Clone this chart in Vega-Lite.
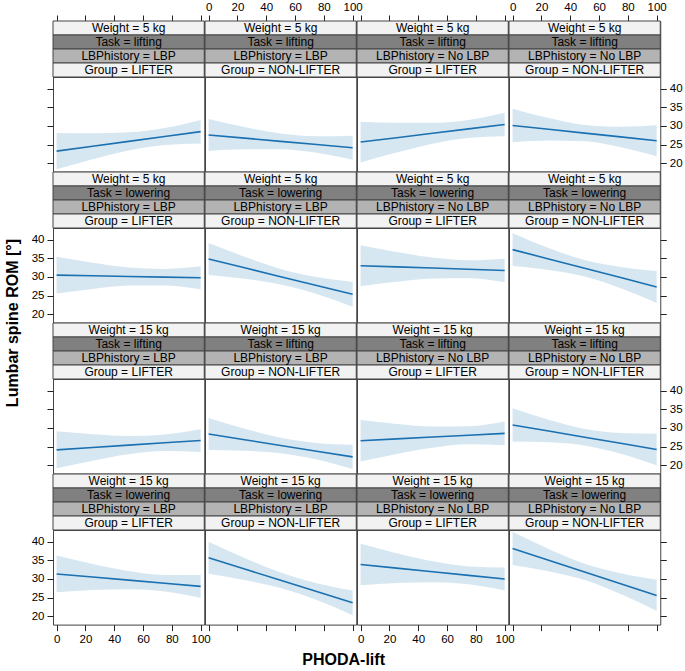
{
  "$schema": "https://vega.github.io/schema/vega-lite/v6.json",
  "background": "white",
  "padding": {"left": 4, "top": 0, "right": 1, "bottom": 2},
  "config": {
    "view": {"stroke": "#444", "strokeWidth": 1},
    "axis": {"domain": false, "grid": false, "tickColor": "#222", "tickSize": 6, "labelFont": "Liberation Sans", "labelFontSize": 11.5, "labelColor": "#000", "labelPadding": 3, "labelFlush": false, "labelOverlap": false},
    "title": {"font": "Liberation Sans", "fontSize": 16, "fontWeight": "bold", "color": "#000"}
  },
  "datasets": {
    "strips": [
      {"p": "r1c1", "v": "Weight", "label": "Weight = 5 kg"}, {"p": "r1c1", "v": "Task", "label": "Task = lifting"}, {"p": "r1c1", "v": "LBPhistory", "label": "LBPhistory = LBP"}, {"p": "r1c1", "v": "Group", "label": "Group = LIFTER"},
      {"p": "r1c2", "v": "Weight", "label": "Weight = 5 kg"}, {"p": "r1c2", "v": "Task", "label": "Task = lifting"}, {"p": "r1c2", "v": "LBPhistory", "label": "LBPhistory = LBP"}, {"p": "r1c2", "v": "Group", "label": "Group = NON-LIFTER"},
      {"p": "r1c3", "v": "Weight", "label": "Weight = 5 kg"}, {"p": "r1c3", "v": "Task", "label": "Task = lifting"}, {"p": "r1c3", "v": "LBPhistory", "label": "LBPhistory = No LBP"}, {"p": "r1c3", "v": "Group", "label": "Group = LIFTER"},
      {"p": "r1c4", "v": "Weight", "label": "Weight = 5 kg"}, {"p": "r1c4", "v": "Task", "label": "Task = lifting"}, {"p": "r1c4", "v": "LBPhistory", "label": "LBPhistory = No LBP"}, {"p": "r1c4", "v": "Group", "label": "Group = NON-LIFTER"},
      {"p": "r2c1", "v": "Weight", "label": "Weight = 5 kg"}, {"p": "r2c1", "v": "Task", "label": "Task = lowering"}, {"p": "r2c1", "v": "LBPhistory", "label": "LBPhistory = LBP"}, {"p": "r2c1", "v": "Group", "label": "Group = LIFTER"},
      {"p": "r2c2", "v": "Weight", "label": "Weight = 5 kg"}, {"p": "r2c2", "v": "Task", "label": "Task = lowering"}, {"p": "r2c2", "v": "LBPhistory", "label": "LBPhistory = LBP"}, {"p": "r2c2", "v": "Group", "label": "Group = NON-LIFTER"},
      {"p": "r2c3", "v": "Weight", "label": "Weight = 5 kg"}, {"p": "r2c3", "v": "Task", "label": "Task = lowering"}, {"p": "r2c3", "v": "LBPhistory", "label": "LBPhistory = No LBP"}, {"p": "r2c3", "v": "Group", "label": "Group = LIFTER"},
      {"p": "r2c4", "v": "Weight", "label": "Weight = 5 kg"}, {"p": "r2c4", "v": "Task", "label": "Task = lowering"}, {"p": "r2c4", "v": "LBPhistory", "label": "LBPhistory = No LBP"}, {"p": "r2c4", "v": "Group", "label": "Group = NON-LIFTER"},
      {"p": "r3c1", "v": "Weight", "label": "Weight = 15 kg"}, {"p": "r3c1", "v": "Task", "label": "Task = lifting"}, {"p": "r3c1", "v": "LBPhistory", "label": "LBPhistory = LBP"}, {"p": "r3c1", "v": "Group", "label": "Group = LIFTER"},
      {"p": "r3c2", "v": "Weight", "label": "Weight = 15 kg"}, {"p": "r3c2", "v": "Task", "label": "Task = lifting"}, {"p": "r3c2", "v": "LBPhistory", "label": "LBPhistory = LBP"}, {"p": "r3c2", "v": "Group", "label": "Group = NON-LIFTER"},
      {"p": "r3c3", "v": "Weight", "label": "Weight = 15 kg"}, {"p": "r3c3", "v": "Task", "label": "Task = lifting"}, {"p": "r3c3", "v": "LBPhistory", "label": "LBPhistory = No LBP"}, {"p": "r3c3", "v": "Group", "label": "Group = LIFTER"},
      {"p": "r3c4", "v": "Weight", "label": "Weight = 15 kg"}, {"p": "r3c4", "v": "Task", "label": "Task = lifting"}, {"p": "r3c4", "v": "LBPhistory", "label": "LBPhistory = No LBP"}, {"p": "r3c4", "v": "Group", "label": "Group = NON-LIFTER"},
      {"p": "r4c1", "v": "Weight", "label": "Weight = 15 kg"}, {"p": "r4c1", "v": "Task", "label": "Task = lowering"}, {"p": "r4c1", "v": "LBPhistory", "label": "LBPhistory = LBP"}, {"p": "r4c1", "v": "Group", "label": "Group = LIFTER"},
      {"p": "r4c2", "v": "Weight", "label": "Weight = 15 kg"}, {"p": "r4c2", "v": "Task", "label": "Task = lowering"}, {"p": "r4c2", "v": "LBPhistory", "label": "LBPhistory = LBP"}, {"p": "r4c2", "v": "Group", "label": "Group = NON-LIFTER"},
      {"p": "r4c3", "v": "Weight", "label": "Weight = 15 kg"}, {"p": "r4c3", "v": "Task", "label": "Task = lowering"}, {"p": "r4c3", "v": "LBPhistory", "label": "LBPhistory = No LBP"}, {"p": "r4c3", "v": "Group", "label": "Group = LIFTER"},
      {"p": "r4c4", "v": "Weight", "label": "Weight = 15 kg"}, {"p": "r4c4", "v": "Task", "label": "Task = lowering"}, {"p": "r4c4", "v": "LBPhistory", "label": "LBPhistory = No LBP"}, {"p": "r4c4", "v": "Group", "label": "Group = NON-LIFTER"}
    ],
    "fits": [
      {"p": "r1c1", "x": 0, "fit": 23.24, "lo": 18.37, "hi": 28.11}, {"p": "r1c1", "x": 25, "fit": 24.55, "lo": 21.07, "hi": 28.03}, {"p": "r1c1", "x": 50, "fit": 25.85, "lo": 23.41, "hi": 28.29}, {"p": "r1c1", "x": 75, "fit": 27.16, "lo": 24.88, "hi": 29.44}, {"p": "r1c1", "x": 100, "fit": 28.46, "lo": 25.31, "hi": 31.61},
      {"p": "r1c2", "x": 0, "fit": 27.56, "lo": 23.28, "hi": 31.84}, {"p": "r1c2", "x": 25, "fit": 26.71, "lo": 23.74, "hi": 29.68}, {"p": "r1c2", "x": 50, "fit": 25.85, "lo": 23.76, "hi": 27.94}, {"p": "r1c2", "x": 75, "fit": 25.0, "lo": 22.78, "hi": 27.22}, {"p": "r1c2", "x": 100, "fit": 24.14, "lo": 20.9, "hi": 27.38},
      {"p": "r1c3", "x": 0, "fit": 25.67, "lo": 20.22, "hi": 31.12}, {"p": "r1c3", "x": 25, "fit": 26.84, "lo": 22.87, "hi": 30.81}, {"p": "r1c3", "x": 50, "fit": 28.02, "lo": 25.23, "hi": 30.81}, {"p": "r1c3", "x": 75, "fit": 29.19, "lo": 26.77, "hi": 31.61}, {"p": "r1c3", "x": 100, "fit": 30.36, "lo": 27.21, "hi": 33.51},
      {"p": "r1c4", "x": 0, "fit": 30.09, "lo": 25.59, "hi": 34.59}, {"p": "r1c4", "x": 25, "fit": 29.08, "lo": 26.06, "hi": 32.1}, {"p": "r1c4", "x": 50, "fit": 28.06, "lo": 25.85, "hi": 30.27}, {"p": "r1c4", "x": 75, "fit": 27.05, "lo": 24.3, "hi": 29.8}, {"p": "r1c4", "x": 100, "fit": 26.03, "lo": 21.89, "hi": 30.17},
      {"p": "r2c1", "x": 0, "fit": 30.47, "lo": 25.52, "hi": 35.42}, {"p": "r2c1", "x": 25, "fit": 30.29, "lo": 26.76, "hi": 33.82}, {"p": "r2c1", "x": 50, "fit": 30.11, "lo": 27.68, "hi": 32.54}, {"p": "r2c1", "x": 75, "fit": 29.93, "lo": 27.72, "hi": 32.14}, {"p": "r2c1", "x": 100, "fit": 29.75, "lo": 26.68, "hi": 32.82},
      {"p": "r2c2", "x": 0, "fit": 34.79, "lo": 30.51, "hi": 39.07}, {"p": "r2c2", "x": 25, "fit": 32.43, "lo": 29.48, "hi": 35.38}, {"p": "r2c2", "x": 50, "fit": 30.06, "lo": 27.98, "hi": 32.14}, {"p": "r2c2", "x": 75, "fit": 27.7, "lo": 25.44, "hi": 29.96}, {"p": "r2c2", "x": 100, "fit": 25.33, "lo": 22.0, "hi": 28.66},
      {"p": "r2c3", "x": 0, "fit": 33.0, "lo": 27.5, "hi": 38.5}, {"p": "r2c3", "x": 25, "fit": 32.68, "lo": 28.68, "hi": 36.68}, {"p": "r2c3", "x": 50, "fit": 32.37, "lo": 29.56, "hi": 35.18}, {"p": "r2c3", "x": 75, "fit": 32.05, "lo": 29.63, "hi": 34.47}, {"p": "r2c3", "x": 100, "fit": 31.73, "lo": 28.58, "hi": 34.88},
      {"p": "r2c4", "x": 0, "fit": 37.31, "lo": 32.9, "hi": 41.72}, {"p": "r2c4", "x": 25, "fit": 34.81, "lo": 31.87, "hi": 37.75}, {"p": "r2c4", "x": 50, "fit": 32.31, "lo": 30.11, "hi": 34.51}, {"p": "r2c4", "x": 75, "fit": 29.81, "lo": 26.97, "hi": 32.65}, {"p": "r2c4", "x": 100, "fit": 27.31, "lo": 23.03, "hi": 31.59},
      {"p": "r3c1", "x": 0, "fit": 24.12, "lo": 19.17, "hi": 29.07}, {"p": "r3c1", "x": 25, "fit": 24.75, "lo": 21.22, "hi": 28.28}, {"p": "r3c1", "x": 50, "fit": 25.38, "lo": 22.95, "hi": 27.81}, {"p": "r3c1", "x": 75, "fit": 26.01, "lo": 23.8, "hi": 28.22}, {"p": "r3c1", "x": 100, "fit": 26.64, "lo": 23.57, "hi": 29.71},
      {"p": "r3c2", "x": 0, "fit": 28.35, "lo": 24.07, "hi": 32.63}, {"p": "r3c2", "x": 25, "fit": 26.82, "lo": 23.85, "hi": 29.79}, {"p": "r3c2", "x": 50, "fit": 25.29, "lo": 23.2, "hi": 27.38}, {"p": "r3c2", "x": 75, "fit": 23.76, "lo": 21.54, "hi": 25.98}, {"p": "r3c2", "x": 100, "fit": 22.23, "lo": 18.99, "hi": 25.47},
      {"p": "r3c3", "x": 0, "fit": 26.55, "lo": 21.01, "hi": 32.09}, {"p": "r3c3", "x": 25, "fit": 27.05, "lo": 23.03, "hi": 31.07}, {"p": "r3c3", "x": 50, "fit": 27.54, "lo": 24.71, "hi": 30.37}, {"p": "r3c3", "x": 75, "fit": 28.04, "lo": 25.61, "hi": 30.47}, {"p": "r3c3", "x": 100, "fit": 28.53, "lo": 25.33, "hi": 31.73},
      {"p": "r3c4", "x": 0, "fit": 30.79, "lo": 26.33, "hi": 35.25}, {"p": "r3c4", "x": 25, "fit": 29.15, "lo": 26.15, "hi": 32.15}, {"p": "r3c4", "x": 50, "fit": 27.5, "lo": 25.3, "hi": 29.7}, {"p": "r3c4", "x": 75, "fit": 25.86, "lo": 23.08, "hi": 28.64}, {"p": "r3c4", "x": 100, "fit": 24.21, "lo": 20.02, "hi": 28.4},
      {"p": "r4c1", "x": 0, "fit": 31.33, "lo": 26.42, "hi": 36.24}, {"p": "r4c1", "x": 25, "fit": 30.5, "lo": 27.0, "hi": 34.0}, {"p": "r4c1", "x": 50, "fit": 29.66, "lo": 27.23, "hi": 32.09}, {"p": "r4c1", "x": 75, "fit": 28.83, "lo": 26.62, "hi": 31.04}, {"p": "r4c1", "x": 100, "fit": 27.99, "lo": 24.92, "hi": 31.06},
      {"p": "r4c2", "x": 0, "fit": 35.65, "lo": 31.37, "hi": 39.93}, {"p": "r4c2", "x": 25, "fit": 32.63, "lo": 29.68, "hi": 35.58}, {"p": "r4c2", "x": 50, "fit": 29.62, "lo": 27.54, "hi": 31.7}, {"p": "r4c2", "x": 75, "fit": 26.6, "lo": 24.34, "hi": 28.86}, {"p": "r4c2", "x": 100, "fit": 23.58, "lo": 20.25, "hi": 26.91},
      {"p": "r4c3", "x": 0, "fit": 33.85, "lo": 28.31, "hi": 39.39}, {"p": "r4c3", "x": 25, "fit": 32.88, "lo": 28.88, "hi": 36.88}, {"p": "r4c3", "x": 50, "fit": 31.92, "lo": 29.12, "hi": 34.72}, {"p": "r4c3", "x": 75, "fit": 30.95, "lo": 28.55, "hi": 33.35}, {"p": "r4c3", "x": 100, "fit": 29.98, "lo": 26.91, "hi": 33.05},
      {"p": "r4c4", "x": 0, "fit": 38.17, "lo": 33.71, "hi": 42.63}, {"p": "r4c4", "x": 25, "fit": 35.02, "lo": 32.02, "hi": 38.02}, {"p": "r4c4", "x": 50, "fit": 31.87, "lo": 29.67, "hi": 34.07}, {"p": "r4c4", "x": 75, "fit": 28.71, "lo": 25.93, "hi": 31.49}, {"p": "r4c4", "x": 100, "fit": 25.56, "lo": 21.37, "hi": 29.75}
    ]
  },
  "title": {"text": "PHODA-lift", "orient": "bottom", "anchor": "middle", "offset": 6},
  "vconcat": [
    {
      "title": {"text": "Lumbar spine ROM [°]", "orient": "left", "anchor": "middle", "frame": "bounds", "offset": 10},
      "columns": 4,
      "spacing": 0,
      "bounds": "flush",
      "concat": [
        {"width": 151.25, "height": 56, "data": {"name": "strips"}, "transform": [{"filter": "datum.p == 'r1c1'"}],
         "encoding": {"y": {"field": "v", "type": "nominal", "sort": ["Weight", "Task", "LBPhistory", "Group"], "scale": {"paddingInner": 0, "paddingOuter": 0}, "axis": null}},
         "layer": [
           {"mark": {"type": "rect", "stroke": "#444", "strokeWidth": 1}, "encoding": {"fill": {"field": "v", "type": "nominal", "scale": {"domain": ["Weight", "Task", "LBPhistory", "Group"], "range": ["#f2f2f2", "#808080", "#b3b3b3", "#f2f2f2"]}, "legend": null}}},
           {"mark": {"type": "text", "font": "Liberation Sans", "fontSize": 12, "color": "#000"}, "encoding": {"text": {"field": "label"}, "x": {"datum": 50, "type": "quantitative", "scale": {"domain": [-2.5, 102.5], "nice": false, "zero": false}, "axis": {"orient": "top", "values": [0, 20, 40, 60, 80, 100], "tickCount": 10, "title": null, "labels": false}}}}
         ]},
        {"width": 151.25, "height": 56, "data": {"name": "strips"}, "transform": [{"filter": "datum.p == 'r1c2'"}],
         "encoding": {"y": {"field": "v", "type": "nominal", "sort": ["Weight", "Task", "LBPhistory", "Group"], "scale": {"paddingInner": 0, "paddingOuter": 0}, "axis": null}},
         "layer": [
           {"mark": {"type": "rect", "stroke": "#444", "strokeWidth": 1}, "encoding": {"fill": {"field": "v", "type": "nominal", "scale": {"domain": ["Weight", "Task", "LBPhistory", "Group"], "range": ["#f2f2f2", "#808080", "#b3b3b3", "#f2f2f2"]}, "legend": null}}},
           {"mark": {"type": "text", "font": "Liberation Sans", "fontSize": 12, "color": "#000"}, "encoding": {"text": {"field": "label"}, "x": {"datum": 50, "type": "quantitative", "scale": {"domain": [-2.5, 102.5], "nice": false, "zero": false}, "axis": {"orient": "top", "values": [0, 20, 40, 60, 80, 100], "tickCount": 10, "title": null, "labels": true}}}}
         ]},
        {"width": 151.25, "height": 56, "data": {"name": "strips"}, "transform": [{"filter": "datum.p == 'r1c3'"}],
         "encoding": {"y": {"field": "v", "type": "nominal", "sort": ["Weight", "Task", "LBPhistory", "Group"], "scale": {"paddingInner": 0, "paddingOuter": 0}, "axis": null}},
         "layer": [
           {"mark": {"type": "rect", "stroke": "#444", "strokeWidth": 1}, "encoding": {"fill": {"field": "v", "type": "nominal", "scale": {"domain": ["Weight", "Task", "LBPhistory", "Group"], "range": ["#f2f2f2", "#808080", "#b3b3b3", "#f2f2f2"]}, "legend": null}}},
           {"mark": {"type": "text", "font": "Liberation Sans", "fontSize": 12, "color": "#000"}, "encoding": {"text": {"field": "label"}, "x": {"datum": 50, "type": "quantitative", "scale": {"domain": [-2.5, 102.5], "nice": false, "zero": false}, "axis": {"orient": "top", "values": [0, 20, 40, 60, 80, 100], "tickCount": 10, "title": null, "labels": false}}}}
         ]},
        {"width": 151.25, "height": 56, "data": {"name": "strips"}, "transform": [{"filter": "datum.p == 'r1c4'"}],
         "encoding": {"y": {"field": "v", "type": "nominal", "sort": ["Weight", "Task", "LBPhistory", "Group"], "scale": {"paddingInner": 0, "paddingOuter": 0}, "axis": null}},
         "layer": [
           {"mark": {"type": "rect", "stroke": "#444", "strokeWidth": 1}, "encoding": {"fill": {"field": "v", "type": "nominal", "scale": {"domain": ["Weight", "Task", "LBPhistory", "Group"], "range": ["#f2f2f2", "#808080", "#b3b3b3", "#f2f2f2"]}, "legend": null}}},
           {"mark": {"type": "text", "font": "Liberation Sans", "fontSize": 12, "color": "#000"}, "encoding": {"text": {"field": "label"}, "x": {"datum": 50, "type": "quantitative", "scale": {"domain": [-2.5, 102.5], "nice": false, "zero": false}, "axis": {"orient": "top", "values": [0, 20, 40, 60, 80, 100], "tickCount": 10, "title": null, "labels": true}}}}
         ]},
        {"width": 151.25, "height": 94.6, "data": {"name": "fits"}, "transform": [{"filter": "datum.p == 'r1c1'"}],
         "encoding": {"x": {"field": "x", "type": "quantitative", "scale": {"domain": [-2.5, 102.5], "nice": false, "zero": false}, "axis": null}},
         "layer": [
           {"mark": {"type": "area", "color": "#d6e7f2", "interpolate": "monotone"}, "encoding": {"y": {"field": "lo", "type": "quantitative", "scale": {"domain": [17.75, 43.1], "nice": false, "zero": false}, "axis": {"orient": "left", "values": [20, 25, 30, 35, 40], "tickCount": 10, "title": null, "labels": false}}, "y2": {"field": "hi"}}},
           {"mark": {"type": "line", "color": "#1a70b0", "strokeWidth": 1.6}, "encoding": {"y": {"field": "fit", "type": "quantitative"}}}
         ]},
        {"width": 151.25, "height": 94.6, "data": {"name": "fits"}, "transform": [{"filter": "datum.p == 'r1c2'"}],
         "encoding": {"x": {"field": "x", "type": "quantitative", "scale": {"domain": [-2.5, 102.5], "nice": false, "zero": false}, "axis": null}},
         "layer": [
           {"mark": {"type": "area", "color": "#d6e7f2", "interpolate": "monotone"}, "encoding": {"y": {"field": "lo", "type": "quantitative", "scale": {"domain": [17.75, 43.1], "nice": false, "zero": false}, "axis": null}, "y2": {"field": "hi"}}},
           {"mark": {"type": "line", "color": "#1a70b0", "strokeWidth": 1.6}, "encoding": {"y": {"field": "fit", "type": "quantitative"}}}
         ]},
        {"width": 151.25, "height": 94.6, "data": {"name": "fits"}, "transform": [{"filter": "datum.p == 'r1c3'"}],
         "encoding": {"x": {"field": "x", "type": "quantitative", "scale": {"domain": [-2.5, 102.5], "nice": false, "zero": false}, "axis": null}},
         "layer": [
           {"mark": {"type": "area", "color": "#d6e7f2", "interpolate": "monotone"}, "encoding": {"y": {"field": "lo", "type": "quantitative", "scale": {"domain": [17.75, 43.1], "nice": false, "zero": false}, "axis": null}, "y2": {"field": "hi"}}},
           {"mark": {"type": "line", "color": "#1a70b0", "strokeWidth": 1.6}, "encoding": {"y": {"field": "fit", "type": "quantitative"}}}
         ]},
        {"width": 151.25, "height": 94.6, "data": {"name": "fits"}, "transform": [{"filter": "datum.p == 'r1c4'"}],
         "encoding": {"x": {"field": "x", "type": "quantitative", "scale": {"domain": [-2.5, 102.5], "nice": false, "zero": false}, "axis": null}},
         "layer": [
           {"mark": {"type": "area", "color": "#d6e7f2", "interpolate": "monotone"}, "encoding": {"y": {"field": "lo", "type": "quantitative", "scale": {"domain": [17.75, 43.1], "nice": false, "zero": false}, "axis": {"orient": "right", "values": [20, 25, 30, 35, 40], "tickCount": 10, "title": null, "labels": true}}, "y2": {"field": "hi"}}},
           {"mark": {"type": "line", "color": "#1a70b0", "strokeWidth": 1.6}, "encoding": {"y": {"field": "fit", "type": "quantitative"}}}
         ]},

        {"width": 151.25, "height": 56, "data": {"name": "strips"}, "transform": [{"filter": "datum.p == 'r2c1'"}],
         "encoding": {"y": {"field": "v", "type": "nominal", "sort": ["Weight", "Task", "LBPhistory", "Group"], "scale": {"paddingInner": 0, "paddingOuter": 0}, "axis": null}},
         "layer": [
           {"mark": {"type": "rect", "stroke": "#444", "strokeWidth": 1}, "encoding": {"fill": {"field": "v", "type": "nominal", "scale": {"domain": ["Weight", "Task", "LBPhistory", "Group"], "range": ["#f2f2f2", "#808080", "#b3b3b3", "#f2f2f2"]}, "legend": null}}},
           {"mark": {"type": "text", "font": "Liberation Sans", "fontSize": 12, "color": "#000"}, "encoding": {"text": {"field": "label"}}}
         ]},
        {"width": 151.25, "height": 56, "data": {"name": "strips"}, "transform": [{"filter": "datum.p == 'r2c2'"}],
         "encoding": {"y": {"field": "v", "type": "nominal", "sort": ["Weight", "Task", "LBPhistory", "Group"], "scale": {"paddingInner": 0, "paddingOuter": 0}, "axis": null}},
         "layer": [
           {"mark": {"type": "rect", "stroke": "#444", "strokeWidth": 1}, "encoding": {"fill": {"field": "v", "type": "nominal", "scale": {"domain": ["Weight", "Task", "LBPhistory", "Group"], "range": ["#f2f2f2", "#808080", "#b3b3b3", "#f2f2f2"]}, "legend": null}}},
           {"mark": {"type": "text", "font": "Liberation Sans", "fontSize": 12, "color": "#000"}, "encoding": {"text": {"field": "label"}}}
         ]},
        {"width": 151.25, "height": 56, "data": {"name": "strips"}, "transform": [{"filter": "datum.p == 'r2c3'"}],
         "encoding": {"y": {"field": "v", "type": "nominal", "sort": ["Weight", "Task", "LBPhistory", "Group"], "scale": {"paddingInner": 0, "paddingOuter": 0}, "axis": null}},
         "layer": [
           {"mark": {"type": "rect", "stroke": "#444", "strokeWidth": 1}, "encoding": {"fill": {"field": "v", "type": "nominal", "scale": {"domain": ["Weight", "Task", "LBPhistory", "Group"], "range": ["#f2f2f2", "#808080", "#b3b3b3", "#f2f2f2"]}, "legend": null}}},
           {"mark": {"type": "text", "font": "Liberation Sans", "fontSize": 12, "color": "#000"}, "encoding": {"text": {"field": "label"}}}
         ]},
        {"width": 151.25, "height": 56, "data": {"name": "strips"}, "transform": [{"filter": "datum.p == 'r2c4'"}],
         "encoding": {"y": {"field": "v", "type": "nominal", "sort": ["Weight", "Task", "LBPhistory", "Group"], "scale": {"paddingInner": 0, "paddingOuter": 0}, "axis": null}},
         "layer": [
           {"mark": {"type": "rect", "stroke": "#444", "strokeWidth": 1}, "encoding": {"fill": {"field": "v", "type": "nominal", "scale": {"domain": ["Weight", "Task", "LBPhistory", "Group"], "range": ["#f2f2f2", "#808080", "#b3b3b3", "#f2f2f2"]}, "legend": null}}},
           {"mark": {"type": "text", "font": "Liberation Sans", "fontSize": 12, "color": "#000"}, "encoding": {"text": {"field": "label"}}}
         ]},
        {"width": 151.25, "height": 94.6, "data": {"name": "fits"}, "transform": [{"filter": "datum.p == 'r2c1'"}],
         "encoding": {"x": {"field": "x", "type": "quantitative", "scale": {"domain": [-2.5, 102.5], "nice": false, "zero": false}, "axis": null}},
         "layer": [
           {"mark": {"type": "area", "color": "#d6e7f2", "interpolate": "monotone"}, "encoding": {"y": {"field": "lo", "type": "quantitative", "scale": {"domain": [17.75, 43.1], "nice": false, "zero": false}, "axis": {"orient": "left", "values": [20, 25, 30, 35, 40], "tickCount": 10, "title": null, "labels": true}}, "y2": {"field": "hi"}}},
           {"mark": {"type": "line", "color": "#1a70b0", "strokeWidth": 1.6}, "encoding": {"y": {"field": "fit", "type": "quantitative"}}}
         ]},
        {"width": 151.25, "height": 94.6, "data": {"name": "fits"}, "transform": [{"filter": "datum.p == 'r2c2'"}],
         "encoding": {"x": {"field": "x", "type": "quantitative", "scale": {"domain": [-2.5, 102.5], "nice": false, "zero": false}, "axis": null}},
         "layer": [
           {"mark": {"type": "area", "color": "#d6e7f2", "interpolate": "monotone"}, "encoding": {"y": {"field": "lo", "type": "quantitative", "scale": {"domain": [17.75, 43.1], "nice": false, "zero": false}, "axis": null}, "y2": {"field": "hi"}}},
           {"mark": {"type": "line", "color": "#1a70b0", "strokeWidth": 1.6}, "encoding": {"y": {"field": "fit", "type": "quantitative"}}}
         ]},
        {"width": 151.25, "height": 94.6, "data": {"name": "fits"}, "transform": [{"filter": "datum.p == 'r2c3'"}],
         "encoding": {"x": {"field": "x", "type": "quantitative", "scale": {"domain": [-2.5, 102.5], "nice": false, "zero": false}, "axis": null}},
         "layer": [
           {"mark": {"type": "area", "color": "#d6e7f2", "interpolate": "monotone"}, "encoding": {"y": {"field": "lo", "type": "quantitative", "scale": {"domain": [17.75, 43.1], "nice": false, "zero": false}, "axis": null}, "y2": {"field": "hi"}}},
           {"mark": {"type": "line", "color": "#1a70b0", "strokeWidth": 1.6}, "encoding": {"y": {"field": "fit", "type": "quantitative"}}}
         ]},
        {"width": 151.25, "height": 94.6, "data": {"name": "fits"}, "transform": [{"filter": "datum.p == 'r2c4'"}],
         "encoding": {"x": {"field": "x", "type": "quantitative", "scale": {"domain": [-2.5, 102.5], "nice": false, "zero": false}, "axis": null}},
         "layer": [
           {"mark": {"type": "area", "color": "#d6e7f2", "interpolate": "monotone"}, "encoding": {"y": {"field": "lo", "type": "quantitative", "scale": {"domain": [17.75, 43.1], "nice": false, "zero": false}, "axis": {"orient": "right", "values": [20, 25, 30, 35, 40], "tickCount": 10, "title": null, "labels": false}}, "y2": {"field": "hi"}}},
           {"mark": {"type": "line", "color": "#1a70b0", "strokeWidth": 1.6}, "encoding": {"y": {"field": "fit", "type": "quantitative"}}}
         ]},

        {"width": 151.25, "height": 56, "data": {"name": "strips"}, "transform": [{"filter": "datum.p == 'r3c1'"}],
         "encoding": {"y": {"field": "v", "type": "nominal", "sort": ["Weight", "Task", "LBPhistory", "Group"], "scale": {"paddingInner": 0, "paddingOuter": 0}, "axis": null}},
         "layer": [
           {"mark": {"type": "rect", "stroke": "#444", "strokeWidth": 1}, "encoding": {"fill": {"field": "v", "type": "nominal", "scale": {"domain": ["Weight", "Task", "LBPhistory", "Group"], "range": ["#f2f2f2", "#808080", "#b3b3b3", "#f2f2f2"]}, "legend": null}}},
           {"mark": {"type": "text", "font": "Liberation Sans", "fontSize": 12, "color": "#000"}, "encoding": {"text": {"field": "label"}}}
         ]},
        {"width": 151.25, "height": 56, "data": {"name": "strips"}, "transform": [{"filter": "datum.p == 'r3c2'"}],
         "encoding": {"y": {"field": "v", "type": "nominal", "sort": ["Weight", "Task", "LBPhistory", "Group"], "scale": {"paddingInner": 0, "paddingOuter": 0}, "axis": null}},
         "layer": [
           {"mark": {"type": "rect", "stroke": "#444", "strokeWidth": 1}, "encoding": {"fill": {"field": "v", "type": "nominal", "scale": {"domain": ["Weight", "Task", "LBPhistory", "Group"], "range": ["#f2f2f2", "#808080", "#b3b3b3", "#f2f2f2"]}, "legend": null}}},
           {"mark": {"type": "text", "font": "Liberation Sans", "fontSize": 12, "color": "#000"}, "encoding": {"text": {"field": "label"}}}
         ]},
        {"width": 151.25, "height": 56, "data": {"name": "strips"}, "transform": [{"filter": "datum.p == 'r3c3'"}],
         "encoding": {"y": {"field": "v", "type": "nominal", "sort": ["Weight", "Task", "LBPhistory", "Group"], "scale": {"paddingInner": 0, "paddingOuter": 0}, "axis": null}},
         "layer": [
           {"mark": {"type": "rect", "stroke": "#444", "strokeWidth": 1}, "encoding": {"fill": {"field": "v", "type": "nominal", "scale": {"domain": ["Weight", "Task", "LBPhistory", "Group"], "range": ["#f2f2f2", "#808080", "#b3b3b3", "#f2f2f2"]}, "legend": null}}},
           {"mark": {"type": "text", "font": "Liberation Sans", "fontSize": 12, "color": "#000"}, "encoding": {"text": {"field": "label"}}}
         ]},
        {"width": 151.25, "height": 56, "data": {"name": "strips"}, "transform": [{"filter": "datum.p == 'r3c4'"}],
         "encoding": {"y": {"field": "v", "type": "nominal", "sort": ["Weight", "Task", "LBPhistory", "Group"], "scale": {"paddingInner": 0, "paddingOuter": 0}, "axis": null}},
         "layer": [
           {"mark": {"type": "rect", "stroke": "#444", "strokeWidth": 1}, "encoding": {"fill": {"field": "v", "type": "nominal", "scale": {"domain": ["Weight", "Task", "LBPhistory", "Group"], "range": ["#f2f2f2", "#808080", "#b3b3b3", "#f2f2f2"]}, "legend": null}}},
           {"mark": {"type": "text", "font": "Liberation Sans", "fontSize": 12, "color": "#000"}, "encoding": {"text": {"field": "label"}}}
         ]},
        {"width": 151.25, "height": 94.6, "data": {"name": "fits"}, "transform": [{"filter": "datum.p == 'r3c1'"}],
         "encoding": {"x": {"field": "x", "type": "quantitative", "scale": {"domain": [-2.5, 102.5], "nice": false, "zero": false}, "axis": null}},
         "layer": [
           {"mark": {"type": "area", "color": "#d6e7f2", "interpolate": "monotone"}, "encoding": {"y": {"field": "lo", "type": "quantitative", "scale": {"domain": [17.75, 43.1], "nice": false, "zero": false}, "axis": {"orient": "left", "values": [20, 25, 30, 35, 40], "tickCount": 10, "title": null, "labels": false}}, "y2": {"field": "hi"}}},
           {"mark": {"type": "line", "color": "#1a70b0", "strokeWidth": 1.6}, "encoding": {"y": {"field": "fit", "type": "quantitative"}}}
         ]},
        {"width": 151.25, "height": 94.6, "data": {"name": "fits"}, "transform": [{"filter": "datum.p == 'r3c2'"}],
         "encoding": {"x": {"field": "x", "type": "quantitative", "scale": {"domain": [-2.5, 102.5], "nice": false, "zero": false}, "axis": null}},
         "layer": [
           {"mark": {"type": "area", "color": "#d6e7f2", "interpolate": "monotone"}, "encoding": {"y": {"field": "lo", "type": "quantitative", "scale": {"domain": [17.75, 43.1], "nice": false, "zero": false}, "axis": null}, "y2": {"field": "hi"}}},
           {"mark": {"type": "line", "color": "#1a70b0", "strokeWidth": 1.6}, "encoding": {"y": {"field": "fit", "type": "quantitative"}}}
         ]},
        {"width": 151.25, "height": 94.6, "data": {"name": "fits"}, "transform": [{"filter": "datum.p == 'r3c3'"}],
         "encoding": {"x": {"field": "x", "type": "quantitative", "scale": {"domain": [-2.5, 102.5], "nice": false, "zero": false}, "axis": null}},
         "layer": [
           {"mark": {"type": "area", "color": "#d6e7f2", "interpolate": "monotone"}, "encoding": {"y": {"field": "lo", "type": "quantitative", "scale": {"domain": [17.75, 43.1], "nice": false, "zero": false}, "axis": null}, "y2": {"field": "hi"}}},
           {"mark": {"type": "line", "color": "#1a70b0", "strokeWidth": 1.6}, "encoding": {"y": {"field": "fit", "type": "quantitative"}}}
         ]},
        {"width": 151.25, "height": 94.6, "data": {"name": "fits"}, "transform": [{"filter": "datum.p == 'r3c4'"}],
         "encoding": {"x": {"field": "x", "type": "quantitative", "scale": {"domain": [-2.5, 102.5], "nice": false, "zero": false}, "axis": null}},
         "layer": [
           {"mark": {"type": "area", "color": "#d6e7f2", "interpolate": "monotone"}, "encoding": {"y": {"field": "lo", "type": "quantitative", "scale": {"domain": [17.75, 43.1], "nice": false, "zero": false}, "axis": {"orient": "right", "values": [20, 25, 30, 35, 40], "tickCount": 10, "title": null, "labels": true}}, "y2": {"field": "hi"}}},
           {"mark": {"type": "line", "color": "#1a70b0", "strokeWidth": 1.6}, "encoding": {"y": {"field": "fit", "type": "quantitative"}}}
         ]},

        {"width": 151.25, "height": 56, "data": {"name": "strips"}, "transform": [{"filter": "datum.p == 'r4c1'"}],
         "encoding": {"y": {"field": "v", "type": "nominal", "sort": ["Weight", "Task", "LBPhistory", "Group"], "scale": {"paddingInner": 0, "paddingOuter": 0}, "axis": null}},
         "layer": [
           {"mark": {"type": "rect", "stroke": "#444", "strokeWidth": 1}, "encoding": {"fill": {"field": "v", "type": "nominal", "scale": {"domain": ["Weight", "Task", "LBPhistory", "Group"], "range": ["#f2f2f2", "#808080", "#b3b3b3", "#f2f2f2"]}, "legend": null}}},
           {"mark": {"type": "text", "font": "Liberation Sans", "fontSize": 12, "color": "#000"}, "encoding": {"text": {"field": "label"}}}
         ]},
        {"width": 151.25, "height": 56, "data": {"name": "strips"}, "transform": [{"filter": "datum.p == 'r4c2'"}],
         "encoding": {"y": {"field": "v", "type": "nominal", "sort": ["Weight", "Task", "LBPhistory", "Group"], "scale": {"paddingInner": 0, "paddingOuter": 0}, "axis": null}},
         "layer": [
           {"mark": {"type": "rect", "stroke": "#444", "strokeWidth": 1}, "encoding": {"fill": {"field": "v", "type": "nominal", "scale": {"domain": ["Weight", "Task", "LBPhistory", "Group"], "range": ["#f2f2f2", "#808080", "#b3b3b3", "#f2f2f2"]}, "legend": null}}},
           {"mark": {"type": "text", "font": "Liberation Sans", "fontSize": 12, "color": "#000"}, "encoding": {"text": {"field": "label"}}}
         ]},
        {"width": 151.25, "height": 56, "data": {"name": "strips"}, "transform": [{"filter": "datum.p == 'r4c3'"}],
         "encoding": {"y": {"field": "v", "type": "nominal", "sort": ["Weight", "Task", "LBPhistory", "Group"], "scale": {"paddingInner": 0, "paddingOuter": 0}, "axis": null}},
         "layer": [
           {"mark": {"type": "rect", "stroke": "#444", "strokeWidth": 1}, "encoding": {"fill": {"field": "v", "type": "nominal", "scale": {"domain": ["Weight", "Task", "LBPhistory", "Group"], "range": ["#f2f2f2", "#808080", "#b3b3b3", "#f2f2f2"]}, "legend": null}}},
           {"mark": {"type": "text", "font": "Liberation Sans", "fontSize": 12, "color": "#000"}, "encoding": {"text": {"field": "label"}}}
         ]},
        {"width": 151.25, "height": 56, "data": {"name": "strips"}, "transform": [{"filter": "datum.p == 'r4c4'"}],
         "encoding": {"y": {"field": "v", "type": "nominal", "sort": ["Weight", "Task", "LBPhistory", "Group"], "scale": {"paddingInner": 0, "paddingOuter": 0}, "axis": null}},
         "layer": [
           {"mark": {"type": "rect", "stroke": "#444", "strokeWidth": 1}, "encoding": {"fill": {"field": "v", "type": "nominal", "scale": {"domain": ["Weight", "Task", "LBPhistory", "Group"], "range": ["#f2f2f2", "#808080", "#b3b3b3", "#f2f2f2"]}, "legend": null}}},
           {"mark": {"type": "text", "font": "Liberation Sans", "fontSize": 12, "color": "#000"}, "encoding": {"text": {"field": "label"}}}
         ]},
        {"width": 151.25, "height": 94.6, "data": {"name": "fits"}, "transform": [{"filter": "datum.p == 'r4c1'"}],
         "encoding": {"x": {"field": "x", "type": "quantitative", "scale": {"domain": [-2.5, 102.5], "nice": false, "zero": false}, "axis": {"orient": "bottom", "values": [0, 20, 40, 60, 80, 100], "tickCount": 10, "title": null, "labels": true}}},
         "layer": [
           {"mark": {"type": "area", "color": "#d6e7f2", "interpolate": "monotone"}, "encoding": {"y": {"field": "lo", "type": "quantitative", "scale": {"domain": [17.75, 43.1], "nice": false, "zero": false}, "axis": {"orient": "left", "values": [20, 25, 30, 35, 40], "tickCount": 10, "title": null, "labels": true}}, "y2": {"field": "hi"}}},
           {"mark": {"type": "line", "color": "#1a70b0", "strokeWidth": 1.6}, "encoding": {"y": {"field": "fit", "type": "quantitative"}}}
         ]},
        {"width": 151.25, "height": 94.6, "data": {"name": "fits"}, "transform": [{"filter": "datum.p == 'r4c2'"}],
         "encoding": {"x": {"field": "x", "type": "quantitative", "scale": {"domain": [-2.5, 102.5], "nice": false, "zero": false}, "axis": {"orient": "bottom", "values": [0, 20, 40, 60, 80, 100], "tickCount": 10, "title": null, "labels": false}}},
         "layer": [
           {"mark": {"type": "area", "color": "#d6e7f2", "interpolate": "monotone"}, "encoding": {"y": {"field": "lo", "type": "quantitative", "scale": {"domain": [17.75, 43.1], "nice": false, "zero": false}, "axis": null}, "y2": {"field": "hi"}}},
           {"mark": {"type": "line", "color": "#1a70b0", "strokeWidth": 1.6}, "encoding": {"y": {"field": "fit", "type": "quantitative"}}}
         ]},
        {"width": 151.25, "height": 94.6, "data": {"name": "fits"}, "transform": [{"filter": "datum.p == 'r4c3'"}],
         "encoding": {"x": {"field": "x", "type": "quantitative", "scale": {"domain": [-2.5, 102.5], "nice": false, "zero": false}, "axis": {"orient": "bottom", "values": [0, 20, 40, 60, 80, 100], "tickCount": 10, "title": null, "labels": true}}},
         "layer": [
           {"mark": {"type": "area", "color": "#d6e7f2", "interpolate": "monotone"}, "encoding": {"y": {"field": "lo", "type": "quantitative", "scale": {"domain": [17.75, 43.1], "nice": false, "zero": false}, "axis": null}, "y2": {"field": "hi"}}},
           {"mark": {"type": "line", "color": "#1a70b0", "strokeWidth": 1.6}, "encoding": {"y": {"field": "fit", "type": "quantitative"}}}
         ]},
        {"width": 151.25, "height": 94.6, "data": {"name": "fits"}, "transform": [{"filter": "datum.p == 'r4c4'"}],
         "encoding": {"x": {"field": "x", "type": "quantitative", "scale": {"domain": [-2.5, 102.5], "nice": false, "zero": false}, "axis": {"orient": "bottom", "values": [0, 20, 40, 60, 80, 100], "tickCount": 10, "title": null, "labels": false}}},
         "layer": [
           {"mark": {"type": "area", "color": "#d6e7f2", "interpolate": "monotone"}, "encoding": {"y": {"field": "lo", "type": "quantitative", "scale": {"domain": [17.75, 43.1], "nice": false, "zero": false}, "axis": {"orient": "right", "values": [20, 25, 30, 35, 40], "tickCount": 10, "title": null, "labels": false}}, "y2": {"field": "hi"}}},
           {"mark": {"type": "line", "color": "#1a70b0", "strokeWidth": 1.6}, "encoding": {"y": {"field": "fit", "type": "quantitative"}}}
         ]}
      ]
    }
  ]
}
